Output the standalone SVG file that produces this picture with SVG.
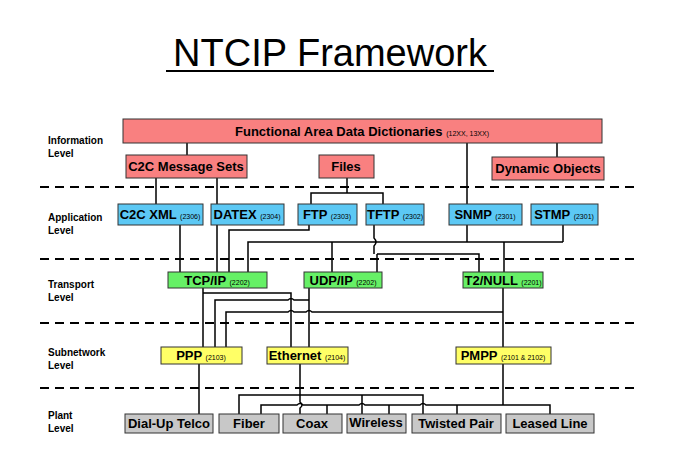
<svg xmlns="http://www.w3.org/2000/svg" width="685" height="461" viewBox="0 0 685 461">
<style>
text{font-family:"Liberation Sans",Arial,sans-serif}
.b{stroke:#333;stroke-width:1}
.r{fill:#f98080}.bl{fill:#5cc8f4}.g{fill:#66f066}.y{fill:#ffff66}.gr{fill:#c8c8c8}
.t{font-size:13px;font-weight:bold;text-anchor:middle;fill:#000}
.s{font-size:7px;font-weight:normal}
.lv{font-size:10px;font-weight:bold;fill:#000}
.c{fill:none;stroke:#000;stroke-width:1.5}
.d{stroke:#000;stroke-width:2;stroke-dasharray:9,6}
</style>
<rect width="685" height="461" fill="#fff"/>
<text x="330" y="66" font-size="38" text-anchor="middle" fill="#000">NTCIP Framework</text>
<line x1="166" y1="71" x2="494" y2="71" stroke="#000" stroke-width="2"/>
<g id="levels">
<text class="lv" x="48" y="144">Information</text><text class="lv" x="48" y="157">Level</text>
<text class="lv" x="48" y="221">Application</text><text class="lv" x="48" y="234">Level</text>
<text class="lv" x="48" y="288">Transport</text><text class="lv" x="48" y="301">Level</text>
<text class="lv" x="48" y="356">Subnetwork</text><text class="lv" x="48" y="369">Level</text>
<text class="lv" x="48" y="419">Plant</text><text class="lv" x="48" y="432">Level</text>
</g>
<g id="dividers">
<line class="d" x1="40" y1="187" x2="640" y2="187"/>
<line class="d" x1="40" y1="259" x2="640" y2="259"/>
<line class="d" x1="40" y1="323" x2="640" y2="323"/>
<line class="d" x1="40" y1="388" x2="640" y2="388"/>
</g>
<g id="connectors">
<path class="c" d="M187 143V155M467 143V204M557 143V157"/>
<path class="c" d="M156 178V204M217 178V204M347 178V193M311 204V193H383V204"/>
<path class="c" d="M180 225V272M217 225V272M309 225V230H229V272"/>
<path class="c" d="M467 225V242M563 225V242M248 272V242H563M332 242V272M504 242V272"/>
<path class="c" d="M374 225V238Q378 242 374 246V254M377 254H479V272M377 254V272"/>
<path class="c" d="M203 288V347M203 293H291V347M309 288V347M215 347V300H288Q291 297 294 300H309"/>
<path class="c" d="M503 288V347M226 347V312H288Q291 309 294 312H306Q309 309 312 312H503"/>
<path class="c" d="M199 364V414M300 364V402Q304 405 300 408V414M239 414V395H423V414M362 395V414"/>
<path class="c" d="M503 364V405M261 414V405H297Q300 402 303 405H359Q362 402 365 405H420Q423 402 426 405H550V414M327 405V414M389 405V414M457 405V414"/>
</g>
<g id="fadd"><rect class="b r" x="123" y="119" width="479" height="24"/><text class="t" x="362" y="136">Functional Area Data Dictionaries <tspan class="s">(12XX, 13XX)</tspan></text></g>
<g id="c2cms"><rect class="b r" x="126" y="155" width="121" height="23"/><text class="t" x="186" y="171">C2C Message Sets</text></g>
<g id="files"><rect class="b r" x="319" y="155" width="55" height="23"/><text class="t" x="346" y="171">Files</text></g>
<g id="dyn"><rect class="b r" x="492" y="157" width="112" height="23"/><text class="t" x="548" y="173">Dynamic Objects</text></g>
<g id="c2cxml"><rect class="b bl" x="118" y="204" width="85" height="21"/><text class="t" x="160" y="219">C2C XML <tspan class="s">(2306)</tspan></text></g>
<g id="datex"><rect class="b bl" x="211" y="204" width="73" height="21"/><text class="t" x="247" y="219">DATEX <tspan class="s">(2304)</tspan></text></g>
<g id="ftp"><rect class="b bl" x="298" y="204" width="59" height="21"/><text class="t" x="327" y="219">FTP <tspan class="s">(2303)</tspan></text></g>
<g id="tftp"><rect class="b bl" x="366" y="204" width="58" height="21"/><text class="t" x="395" y="219">TFTP <tspan class="s">(2302)</tspan></text></g>
<g id="snmp"><rect class="b bl" x="449" y="204" width="73" height="21"/><text class="t" x="485" y="219">SNMP <tspan class="s">(2301)</tspan></text></g>
<g id="stmp"><rect class="b bl" x="531" y="204" width="67" height="21"/><text class="t" x="564" y="219">STMP <tspan class="s">(2301)</tspan></text></g>
<g id="tcp"><rect class="b g" x="168" y="272" width="99" height="16"/><text class="t" x="217" y="285">TCP/IP <tspan class="s">(2202)</tspan></text></g>
<g id="udp"><rect class="b g" x="304" y="272" width="78" height="16"/><text class="t" x="343" y="285">UDP/IP <tspan class="s">(2202)</tspan></text></g>
<g id="t2null"><rect class="b g" x="463" y="272" width="80" height="16"/><text class="t" x="503" y="285">T2/NULL <tspan class="s">(2201)</tspan></text></g>
<g id="ppp"><rect class="b y" x="161" y="347" width="81" height="17"/><text class="t" x="201" y="360">PPP <tspan class="s">(2103)</tspan></text></g>
<g id="ethernet"><rect class="b y" x="267" y="347" width="81" height="17"/><text class="t" x="307" y="360">Ethernet <tspan class="s">(2104)</tspan></text></g>
<g id="pmpp"><rect class="b y" x="456" y="347" width="95" height="17"/><text class="t" x="503" y="360">PMPP <tspan class="s">(2101 &amp; 2102)</tspan></text></g>
<g id="dialup"><rect class="b gr" x="125" y="414" width="88" height="19"/><text class="t" x="169" y="428">Dial-Up Telco</text></g>
<g id="fiber"><rect class="b gr" x="219" y="414" width="60" height="19"/><text class="t" x="249" y="428">Fiber</text></g>
<g id="coax"><rect class="b gr" x="283" y="414" width="59" height="19"/><text class="t" x="312" y="428">Coax</text></g>
<g id="wireless"><rect class="b gr" x="347" y="414" width="59" height="19"/><text class="t" x="376" y="427">Wireless</text></g>
<g id="twisted"><rect class="b gr" x="412" y="414" width="89" height="19"/><text class="t" x="456" y="428">Twisted Pair</text></g>
<g id="leased"><rect class="b gr" x="506" y="414" width="88" height="19"/><text class="t" x="550" y="428">Leased Line</text></g>
</svg>
